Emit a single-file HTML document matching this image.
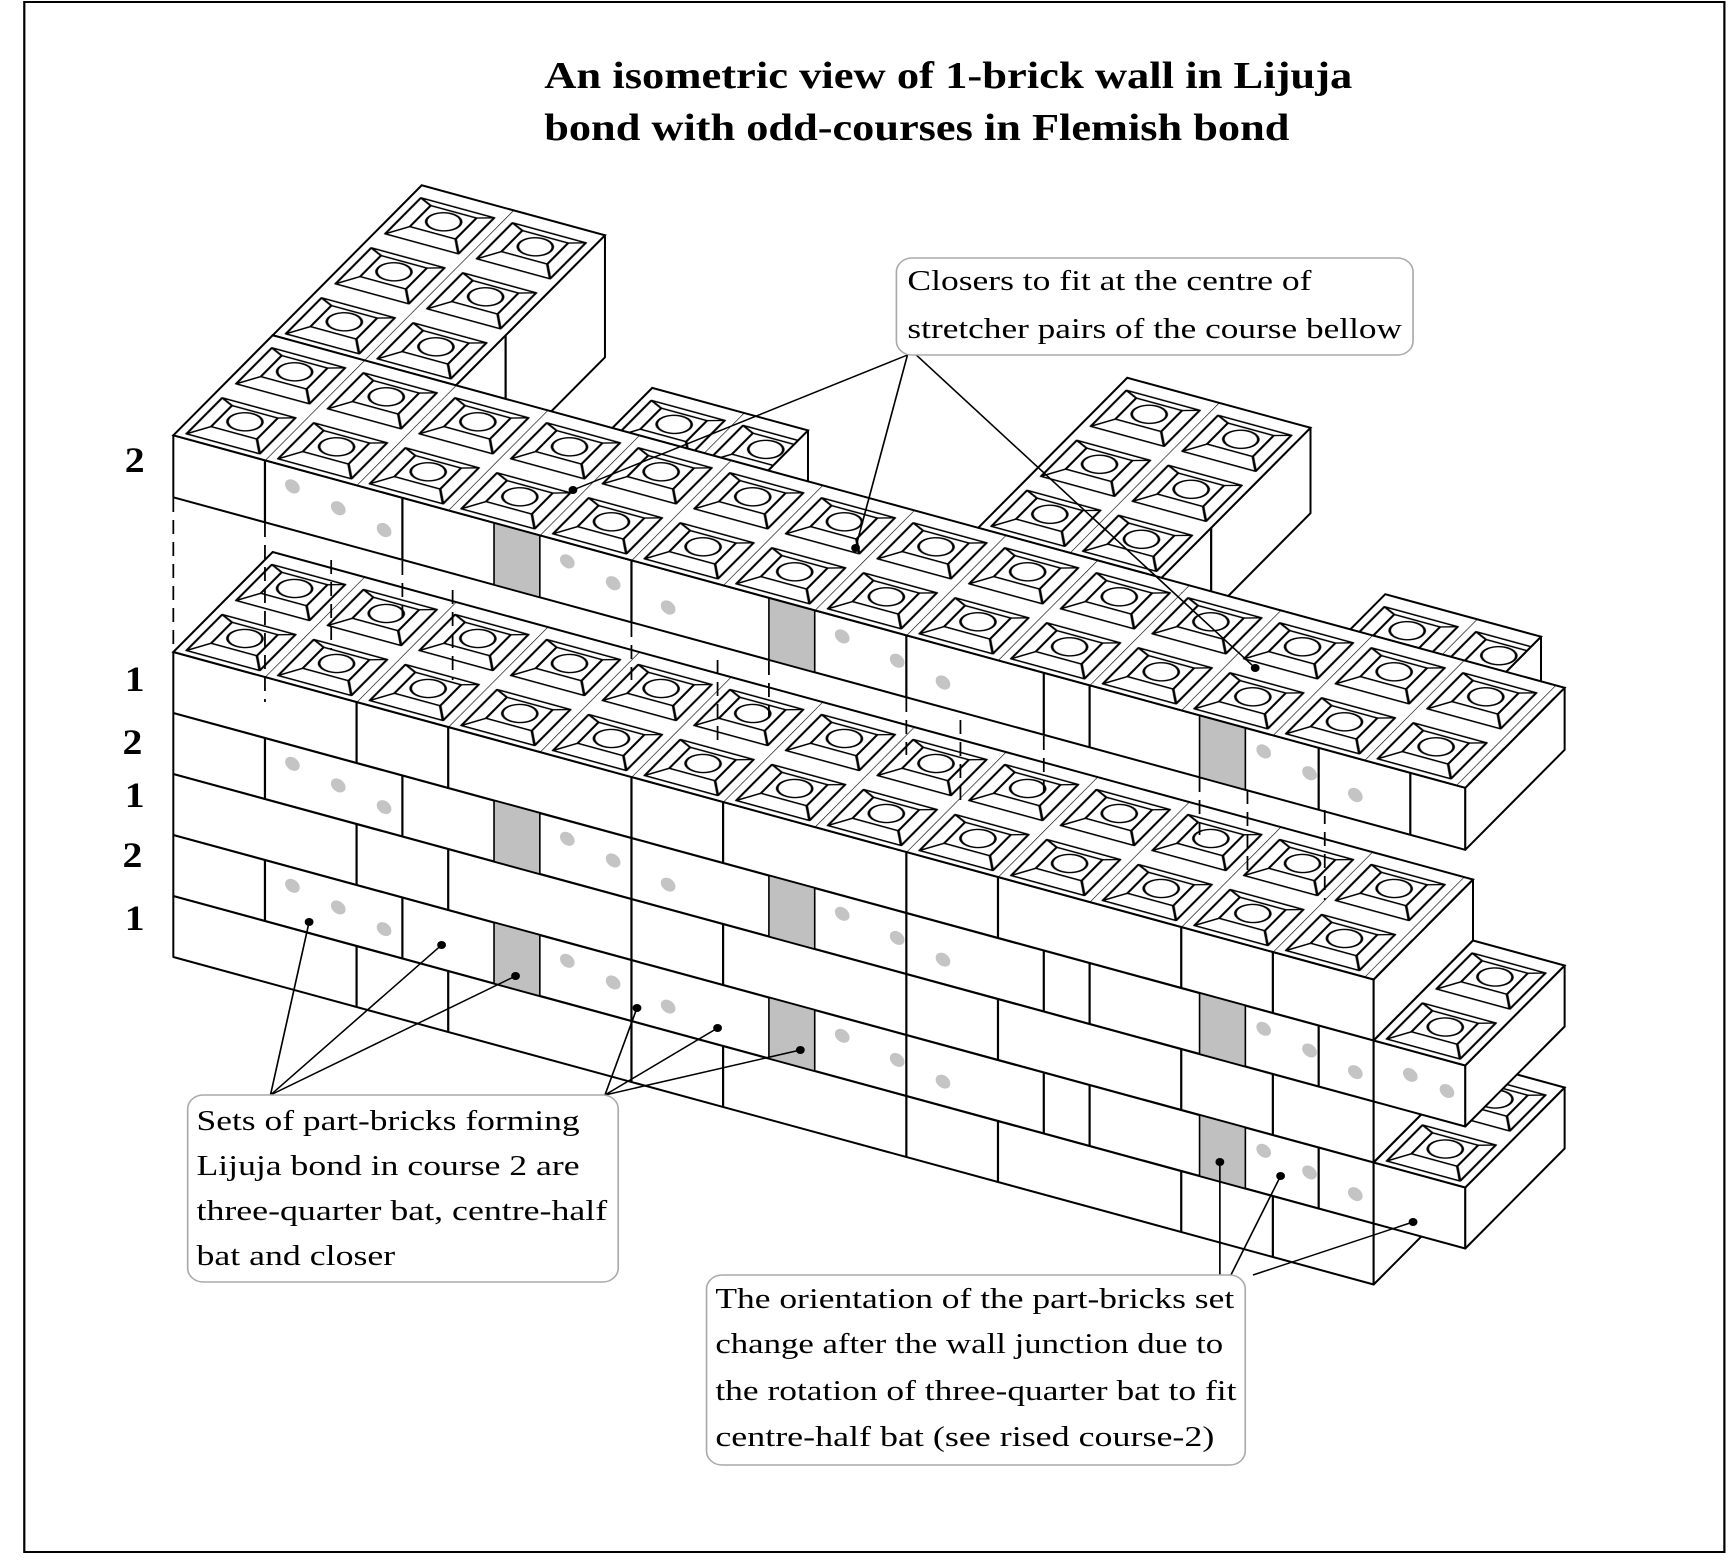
<!DOCTYPE html>
<html><head><meta charset="utf-8"><style>
html,body{margin:0;padding:0;background:#fff;}
svg{display:block;}
.o{fill:#fff;stroke:#000;stroke-width:2;vector-effect:non-scaling-stroke;stroke-linejoin:round}
.j{fill:none;stroke:#000;stroke-width:2.2;vector-effect:non-scaling-stroke}
.g{fill:#c0c0c0;stroke:#000;stroke-width:1.6;vector-effect:non-scaling-stroke}
.s{fill:#c4c4c4}
.t{fill:url(#fg);stroke:#000;stroke-width:2;vector-effect:non-scaling-stroke}
</style></head><body>
<svg width="1731" height="1560" viewBox="0 0 1568 1560" preserveAspectRatio="none" xmlns="http://www.w3.org/2000/svg">
<defs>
<pattern id="fg" patternUnits="userSpaceOnUse" x="0" y="0" width="1" height="1">
<rect x="0" y="0" width="1" height="1" fill="#fff"/>
<g stroke="#000" stroke-width="0.025" fill="#fff" stroke-linejoin="round">
<path d="M0,0 V1" fill="none" stroke-width="0.015"/>
<polygon points=".1,.08 .9,.08 .9,.8 .1,.8"/>
<path d="M.1,.08 L.25,.3 M.9,.08 L.75,.3 M.9,.8 L.75,.72 M.1,.8 L.25,.72" fill="none"/>
<polygon points=".25,.3 .75,.3 .75,.72 .25,.72"/>
<ellipse cx=".5" cy=".52" rx=".17" ry=".16" fill="none"/>
</g>
</pattern>
</defs>
<rect x="0" y="0" width="1568" height="1560" fill="#fff"/>
<rect x="22" y="2" width="1540" height="1550" fill="none" stroke="#000" stroke-width="2"/>

<!-- LOWER WALL -->
<g transform="matrix(83,25,0,61,157,652)">
<rect class="o" x="0" y="0" width="13.1" height="5"/>
<path class="j" d="M0,1H13.1M0,2H13.1M0,3H13.1M0,4H13.1"/>
<path class="j" d="M2,0V1M3,0V1M5,0V1M6,0V1M8,0V1M9,0V1M11,0V1M12,0V1 M2,2V3M3,2V3M5,2V3M6,2V3M8,2V3M9,2V3M11,2V3M12,2V3 M2,4V5M3,4V5M5,4V5M6,4V5M8,4V5M9,4V5M11,4V5M12,4V5"/>
<path class="j" d="M1,1V2M2.5,1V2M5,1V2M8,1V2M9.5,1V2M10,1V2M12.5,1V2 M1,3V4M2.5,3V4M5,3V4M8,3V4M9.5,3V4M10,3V4M12.5,3V4"/>
<rect class="g" x="3.5" y="1" width="0.5" height="1"/><rect class="g" x="6.5" y="1" width="0.5" height="1"/><rect class="g" x="11.2" y="1" width="0.5" height="1"/>
<rect class="g" x="3.5" y="3" width="0.5" height="1"/><rect class="g" x="6.5" y="3" width="0.5" height="1"/><rect class="g" x="11.2" y="3" width="0.5" height="1"/>
<g class="s">
<ellipse cx="1.3" cy="1.3" rx=".08" ry=".11"/><ellipse cx="1.8" cy="1.45" rx=".08" ry=".11"/><ellipse cx="2.3" cy="1.6" rx=".08" ry=".11"/>
<ellipse cx="4.3" cy="1.3" rx=".08" ry=".11"/><ellipse cx="4.8" cy="1.45" rx=".08" ry=".11"/><ellipse cx="5.4" cy="1.6" rx=".08" ry=".11"/>
<ellipse cx="7.3" cy="1.3" rx=".08" ry=".11"/><ellipse cx="7.9" cy="1.45" rx=".08" ry=".11"/><ellipse cx="8.4" cy="1.6" rx=".08" ry=".11"/>
<ellipse cx="11.9" cy="1.3" rx=".08" ry=".11"/><ellipse cx="12.4" cy="1.45" rx=".08" ry=".11"/><ellipse cx="12.9" cy="1.6" rx=".08" ry=".11"/>
<ellipse cx="1.3" cy="3.3" rx=".08" ry=".11"/><ellipse cx="1.8" cy="3.45" rx=".08" ry=".11"/><ellipse cx="2.3" cy="3.6" rx=".08" ry=".11"/>
<ellipse cx="4.3" cy="3.3" rx=".08" ry=".11"/><ellipse cx="4.8" cy="3.45" rx=".08" ry=".11"/><ellipse cx="5.4" cy="3.6" rx=".08" ry=".11"/>
<ellipse cx="7.3" cy="3.3" rx=".08" ry=".11"/><ellipse cx="7.9" cy="3.45" rx=".08" ry=".11"/><ellipse cx="8.4" cy="3.6" rx=".08" ry=".11"/>
<ellipse cx="11.9" cy="3.3" rx=".08" ry=".11"/><ellipse cx="12.4" cy="3.45" rx=".08" ry=".11"/><ellipse cx="12.9" cy="3.6" rx=".08" ry=".11"/>
</g>
</g>
<g transform="matrix(45,-50,0,61,1244.3,979.5)">
<rect class="o" x="0" y="0" width="2" height="5"/>
<path class="j" d="M0,1H2M0,2H2M0,3H2M0,4H2"/>
</g>
<g transform="matrix(83,25,45,-50,157,652)"><rect class="t" x="0" y="0" width="13.1" height="2"/></g>

<!-- right extensions -->
<g transform="matrix(83,25,0,61,1244.3,1162.5)"><rect class="o" x="0" y="0" width="1" height="1"/></g>
<g transform="matrix(45,-50,0,61,1327.3,1187.5)"><rect class="o" x="0" y="0" width="2" height="1"/></g>
<g transform="matrix(83,25,45,-50,1244.3,1162.5)"><rect class="t" x="0" y="0" width="1" height="2"/></g>
<g transform="matrix(83,25,0,61,1244.3,1040.5)"><rect class="o" x="0" y="0" width="1" height="1"/><ellipse class="s" cx=".4" cy=".4" rx=".08" ry=".11"/><ellipse class="s" cx=".8" cy=".5" rx=".08" ry=".11"/></g>
<g transform="matrix(45,-50,0,61,1327.3,1065.5)"><rect class="o" x="0" y="0" width="2" height="1"/></g>
<g transform="matrix(83,25,45,-50,1244.3,1040.5)"><rect class="t" x="0" y="0" width="1" height="2"/></g>

<!-- left tower -->
<g transform="matrix(83,25,0,61,247,335.3)"><rect class="o" x="0" y="0" width="2" height="2"/></g>
<g transform="matrix(45,-50,0,61,413,385.3)"><rect class="o" x="0" y="0" width="3" height="2"/><path class="j" d="M1,0V2"/></g>
<g transform="matrix(83,25,45,-50,247,335.3)"><rect class="t" x="0" y="0" width="2" height="3"/></g>
<!-- small back box -->
<g transform="matrix(83,25,0,61,545.8,437.9)"><rect class="o" x="0" y="0" width="1.7" height="1"/></g>
<g transform="matrix(45,-50,0,61,686.9,480.4)"><rect class="o" x="0" y="0" width="1" height="1"/></g>
<g transform="matrix(83,25,45,-50,545.8,437.9)"><rect class="t" x="0" y="0" width="1.7" height="1"/></g>
<!-- right stub -->
<g transform="matrix(83,25,0,61,886.1,527.8)"><rect class="o" x="0" y="0" width="2" height="1.4"/></g>
<g transform="matrix(45,-50,0,61,1052.1,577.8)"><rect class="o" x="0" y="0" width="3" height="1.4"/><path class="j" d="M1,0V1.4"/></g>
<g transform="matrix(83,25,45,-50,886.1,527.8)"><rect class="t" x="0" y="0" width="2" height="3"/></g>
<!-- back box right -->
<g transform="matrix(83,25,0,61,1209.8,644.2)"><rect class="o" x="0" y="0" width="1.7" height="1"/></g>
<g transform="matrix(45,-50,0,61,1350.9,686.7)"><rect class="o" x="0" y="0" width="1" height="1"/></g>
<g transform="matrix(83,25,45,-50,1209.8,644.2)"><rect class="t" x="0" y="0" width="1.7" height="1"/></g>

<!-- RAISED COURSE 2 -->
<g transform="matrix(83,25,0,62,157,435.3)">
<rect class="o" x="0" y="0" width="14.1" height="1"/>
<path class="j" d="M1,0V1M2.5,0V1M5,0V1M8,0V1M9.5,0V1M10,0V1M12.5,0V1M13.5,0V1"/>
<rect class="g" x="3.5" y="0" width="0.5" height="1"/><rect class="g" x="6.5" y="0" width="0.5" height="1"/><rect class="g" x="11.2" y="0" width="0.5" height="1"/>
<g class="s">
<ellipse cx="1.3" cy=".3" rx=".08" ry=".11"/><ellipse cx="1.8" cy=".45" rx=".08" ry=".11"/><ellipse cx="2.3" cy=".6" rx=".08" ry=".11"/>
<ellipse cx="4.3" cy=".3" rx=".08" ry=".11"/><ellipse cx="4.8" cy=".45" rx=".08" ry=".11"/><ellipse cx="5.4" cy=".6" rx=".08" ry=".11"/>
<ellipse cx="7.3" cy=".3" rx=".08" ry=".11"/><ellipse cx="7.9" cy=".45" rx=".08" ry=".11"/><ellipse cx="8.4" cy=".6" rx=".08" ry=".11"/>
<ellipse cx="11.9" cy=".3" rx=".08" ry=".11"/><ellipse cx="12.4" cy=".45" rx=".08" ry=".11"/><ellipse cx="12.9" cy=".6" rx=".08" ry=".11"/>
</g>
</g>
<g transform="matrix(45,-50,0,62,1327.3,787.8)"><rect class="o" x="0" y="0" width="2" height="1"/></g>
<g transform="matrix(83,25,45,-50,157,435.3)"><rect class="t" x="0" y="0" width="14.1" height="2"/></g>

<!-- dashed guides -->
<g stroke="#000" stroke-width="1.6" stroke-dasharray="14,8" fill="none">
<path d="M157,498V652M240,523V702M364.5,561V618M572,623V680M696.5,661V718M821,698V755M945.5,736V793M1086.6,778V835"/>
<path d="M300,560V650M410,590V680M650,660V745M870,720V800M1130,790V870M1200,810V900"/>
</g>

<g font-family="Liberation Serif, serif" font-weight="bold" font-size="38" fill="#000">
<text x="493" y="88" textLength="732" lengthAdjust="spacingAndGlyphs">An isometric view of 1-brick wall in Lijuja</text>
<text x="493" y="140" textLength="675" lengthAdjust="spacingAndGlyphs">bond with odd-courses in Flemish bond</text>
</g>
<g font-family="Liberation Serif, serif" font-weight="bold" font-size="36" fill="#000">
<text x="113" y="472">2</text>
<text x="113" y="691">1</text>
<text x="111" y="754">2</text>
<text x="113" y="807">1</text>
<text x="111" y="867">2</text>
<text x="113" y="930">1</text>
</g>
<g stroke="#000" stroke-width="1.5" fill="none">
<path d="M822,355L519,490M822,355L775,548M830,355L1137,668 M245,1095L280,922M245,1095L400,945M245,1095L467,976 M548,1095L577,1008M548,1095L650,1028M548,1095L725,1050 M1105,1275L1105,1162M1115,1275L1160,1176M1135,1275L1280,1222"/>
</g>
<g fill="#000">
<circle cx="519" cy="490" r="4"/><circle cx="775" cy="548" r="4"/><circle cx="1137" cy="668" r="4"/>
<circle cx="280" cy="922" r="4"/><circle cx="400" cy="945" r="4"/><circle cx="467" cy="976" r="4"/>
<circle cx="577" cy="1008" r="4"/><circle cx="650" cy="1028" r="4"/><circle cx="725" cy="1050" r="4"/>
<circle cx="1105" cy="1162" r="4"/><circle cx="1160" cy="1176" r="4"/><circle cx="1280" cy="1222" r="4"/>
</g>
<g fill="#fff" stroke="#aaa" stroke-width="1.5">
<rect x="812" y="258" width="468" height="97" rx="14"/>
<rect x="170" y="1095" width="390" height="187" rx="14"/>
<rect x="640" y="1275" width="488" height="190" rx="14"/>
</g>
<g font-family="Liberation Serif, serif" font-size="29" fill="#000">
<text x="822" y="290" textLength="366" lengthAdjust="spacingAndGlyphs">Closers to fit at the centre of</text>
<text x="822" y="338" textLength="448" lengthAdjust="spacingAndGlyphs">stretcher pairs of the course bellow</text>
<text x="178" y="1130" textLength="347" lengthAdjust="spacingAndGlyphs">Sets of part-bricks forming</text>
<text x="178" y="1175" textLength="347" lengthAdjust="spacingAndGlyphs">Lijuja bond in course 2 are</text>
<text x="178" y="1220" textLength="372" lengthAdjust="spacingAndGlyphs">three-quarter bat, centre-half</text>
<text x="178" y="1265" textLength="180" lengthAdjust="spacingAndGlyphs">bat and closer</text>
<text x="648" y="1308" textLength="470" lengthAdjust="spacingAndGlyphs">The orientation of the part-bricks set</text>
<text x="648" y="1353" textLength="460" lengthAdjust="spacingAndGlyphs">change after the wall junction due to</text>
<text x="648" y="1400" textLength="472" lengthAdjust="spacingAndGlyphs">the rotation of three-quarter bat to fit</text>
<text x="648" y="1446" textLength="452" lengthAdjust="spacingAndGlyphs">centre-half bat (see rised course-2)</text>
</g>
</svg>
</body></html>
